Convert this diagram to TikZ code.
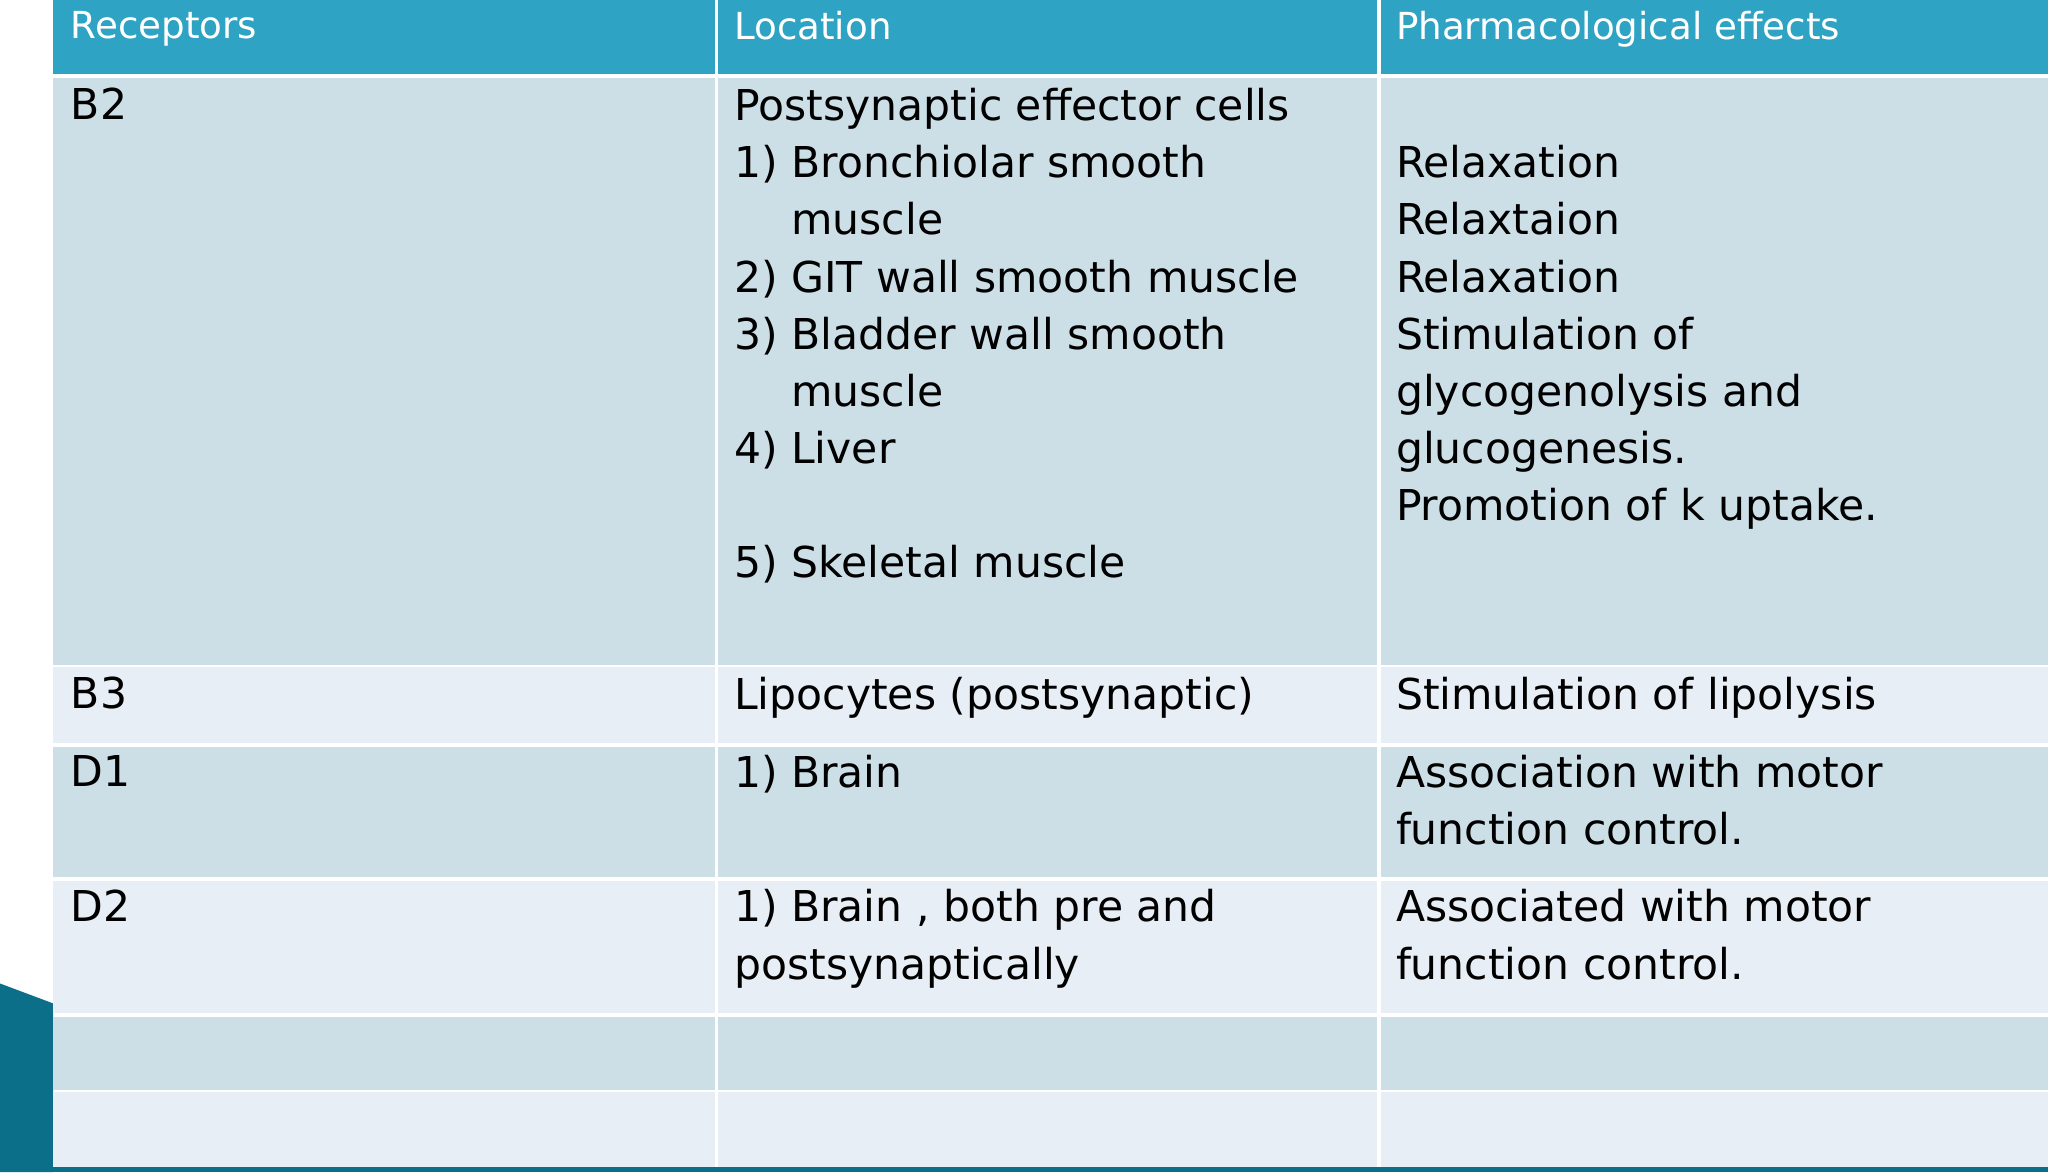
\documentclass[tikz,border=0pt]{standalone}
\usepackage{fontspec}
\setmainfont{DejaVu Sans}
\begin{document}
\begin{tikzpicture}[x=0.5pt,y=-0.5pt,
 cell/.style={anchor=north west,inner sep=0pt,align=left,font=\fontsize{16}{21.5}\selectfont,text=black},
 head/.style={anchor=north west,inner sep=0pt,font=\fontsize{14}{17}\selectfont,text=white}]
\definecolor{hd}{HTML}{2EA3C3}
\definecolor{dk}{HTML}{CCDFE7}
\definecolor{lt}{HTML}{E8EEF5}
\definecolor{tl}{HTML}{0C6F8A}
\useasboundingbox (0,0) rectangle (1541,882);
\fill[white] (0,0) rectangle (1541,882);
\fill[tl] (0,740) -- (40,755) -- (40,882) -- (0,882) -- cycle;
\fill[tl] (40,878) rectangle (1541,882);
\fill[hd] (40,0) rectangle (1541,56);
\foreach \a/\b/\c in {59/500/dk,502/559/lt,562/660/dk,663/762/lt,765/820/dk,822/878/lt}{
 \fill[\c] (40,\a) rectangle (538,\b);
 \fill[\c] (540,\a) rectangle (1036,\b);
 \fill[\c] (1039,\a) rectangle (1541,\b);}
\fill[white] (538,0) rectangle (540,878);
\fill[white] (1036,0) rectangle (1039,878);
\node[head] (h1) at (53,8) {Receptors};
\node[head] (h2) at (552,8) {Location};
\node[head] (h3) at (1050,8) {Pharmacological effects};
\node[cell] (r1) at (53,66) {B2};
\node[cell] (l1) at (552,66) {Postsynaptic effector cells\\
1) Bronchiolar smooth\\
\hphantom{1) }muscle\\
2) GIT wall smooth muscle\\
3) Bladder wall smooth\\
\hphantom{3) }muscle\\
4) Liver\\[\baselineskip]
5) Skeletal muscle};
\node[cell] (e1) at (1050,109) {Relaxation\\Relaxtaion\\Relaxation\\Stimulation of\\glycogenolysis and\\glucogenesis.\\Promotion of k uptake.};
\node[cell] (r2) at (53,509) {B3};
\node[cell] (l2) at (552,509) {Lipocytes (postsynaptic)};
\node[cell] (e2) at (1050,509) {Stimulation of lipolysis};
\node[cell] (r3) at (53,568) {D1};
\node[cell] (l3) at (552,568) {1) Brain};
\node[cell] (e3) at (1050,568) {Association with motor\\function control.};
\node[cell] (r4) at (53,669) {D2};
\node[cell] (l4) at (552,669) {1) Brain , both pre and\\postsynaptically};
\node[cell] (e4) at (1050,669) {Associated with motor\\function control.};
\end{tikzpicture}
\end{document}
